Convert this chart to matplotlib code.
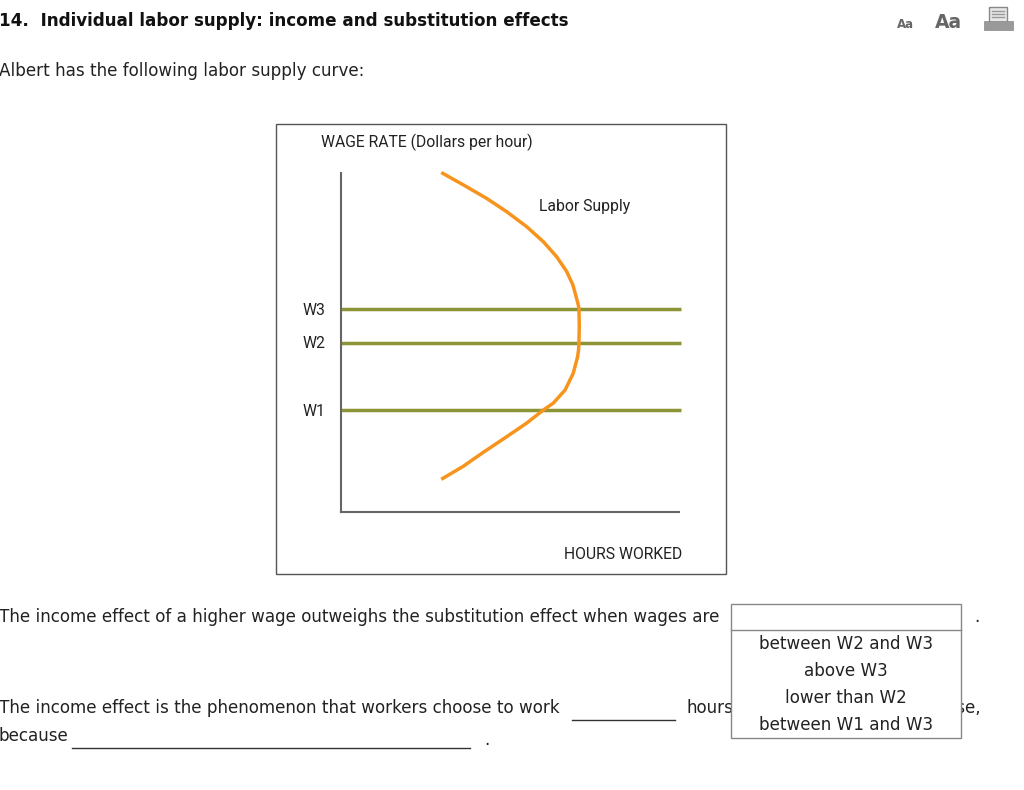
import matplotlib
matplotlib.use('Agg')
import matplotlib.pyplot as plt
from matplotlib.patches import Rectangle

# labor supply curve (hours worked, wage)
hours = [3.01, 3.62, 4.31, 4.90, 5.49, 5.99, 6.38, 6.68, 6.86, 6.97, 7.01, 7.04, 7.05,
         7.04, 7.03, 7.00, 6.87, 6.63, 6.28, 5.99, 5.49, 4.90, 4.21, 3.62, 3.01]
wage = [9.99, 9.65, 9.25, 8.86, 8.42, 7.97, 7.53, 7.09, 6.70, 6.30, 6.15, 6.01, 5.5,
        5.01, 4.8, 4.58, 4.09, 3.60, 3.21, 3.01, 2.62, 2.22, 1.76, 1.35, 0.99]

wage_levels = [3, 5, 6]
wage_labels = ['W1', 'W2', 'W3']

title = '14.  Individual labor supply: income and substitution effects'
intro = 'Albert has the following labor supply curve:'
q1 = 'The income effect of a higher wage outweighs the substitution effect when wages are'
q2 = 'The income effect is the phenomenon that workers choose to work'
options = ['between W2 and W3', 'above W3', 'lower than W2', 'between W1 and W3']

orange = '#F7941D'
olive = '#8C9435'
fs = 12.1
cfs = 11.3

fig = plt.figure(figsize=(10.24, 7.90), dpi=100)

# page layer in pixel coordinates
page = fig.add_axes([0, 0, 1, 1])
page.set_xlim(0, 1024)
page.set_ylim(790, 0)
page.axis('off')

page.text(-1, 21, title, fontsize=fs, fontweight='bold', va='center', color='#111')
page.text(-1, 71, intro, fontsize=fs, va='center', color='#222')

# font size buttons and print icon
page.text(897, 24, 'Aa', fontsize=8.5, fontweight='bold', va='center', color='#666')
page.text(935, 22, 'Aa', fontsize=13.5, fontweight='bold', va='center', color='#666')
page.add_patch(Rectangle((989, 7), 18, 15, fc='#e8e8e8', ec='#888', lw=1))
for yy in (11, 14, 17):
    page.plot([992, 1004], [yy, yy], color='#999', lw=1)
page.add_patch(Rectangle((984, 21), 29, 9, fc='#999', ec='#888', lw=0.5))

# chart frame
page.add_patch(Rectangle((276, 124), 450, 450, fc='white', ec='#555', lw=1))

# questions
page.text(-1, 617, q1, fontsize=fs, va='center', color='#222')
page.text(974, 617, '.', fontsize=fs, va='center', color='#222')
page.text(-1, 708, q2, fontsize=fs, va='center', color='#222')
page.plot([572, 675], [720, 720], color='#333', lw=1)
page.text(686, 708, 'hours', fontsize=fs, va='center', color='#222')
page.text(981, 708, 'ase,', fontsize=fs, va='center', ha='right', color='#222')
page.text(-1, 736, 'because', fontsize=fs, va='center', color='#222')
page.plot([72, 470], [748, 748], color='#333', lw=1)
page.text(484, 740, '.', fontsize=fs, va='center', color='#222')

# open dropdown
page.add_patch(Rectangle((731, 604), 230, 134, fc='white', ec='#888', lw=1, zorder=5))
page.plot([731, 961], [630, 630], color='#888', lw=1, zorder=6)
for i, opt in enumerate(options):
    page.text(846, 644 + 27 * i, opt, fontsize=fs, ha='center', va='center', color='#222', zorder=6)

# the chart itself
ax = fig.add_axes([341 / 1024, (790 - 512) / 790, 338 / 1024, 339 / 790])
ax.set_xlim(0, 10)
ax.set_ylim(0, 10)
ax.patch.set_alpha(0)
for side in ('top', 'right'):
    ax.spines[side].set_visible(False)
for side in ('left', 'bottom'):
    ax.spines[side].set_color('#666')
    ax.spines[side].set_linewidth(1.5)

for w in wage_levels:
    ax.plot([0, 10.05], [w, w], color=olive, lw=2.5, clip_on=False, solid_capstyle='butt')
ax.plot(hours, wage, color=orange, lw=2.5, clip_on=False, solid_joinstyle='round')

ax.set_xticks([])
ax.set_yticks(wage_levels)
ax.set_yticklabels(wage_labels, fontfamily='Roboto', fontsize=cfs, color='#222')
ax.tick_params(axis='y', length=0, pad=11)

ax.text(-0.6, 10.9, 'WAGE RATE (Dollars per hour)', fontfamily='Roboto', fontsize=cfs,
        va='center', color='#222')
ax.text(5.85, 9.0, 'Labor Supply', fontfamily='Roboto', fontsize=cfs, va='center', color='#222')
ax.text(10.1, -1.25, 'HOURS WORKED', fontfamily='Roboto', fontsize=cfs, va='center',
        ha='right', color='#222')

fig.savefig('out.png', dpi=100)
